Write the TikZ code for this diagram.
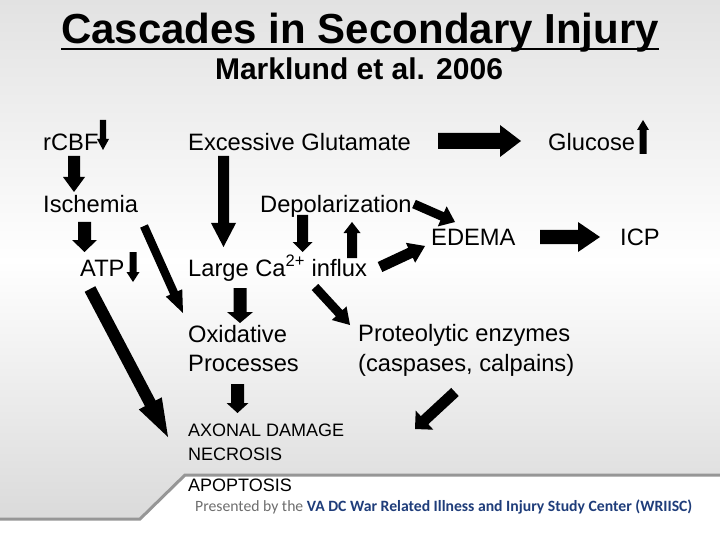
\documentclass[tikz,border=0pt]{standalone}
\usepackage{fontspec}
\setmainfont{Liberation Sans}
\newfontfamily\footfont{Carlito}
\usetikzlibrary{calc}
\definecolor{bgtop}{RGB}{226,226,226}
\definecolor{bgbot}{RGB}{218,218,218}
\definecolor{footline}{RGB}{150,150,150}
\definecolor{footblue}{RGB}{31,61,122}
\definecolor{footgray}{RGB}{110,110,110}
% block arrow: tail, tip, half shaft width, half head width, head length
\newcommand\blockarrow[5]{%
  \coordinate (babase) at ($(#2)!#5!(#1)$);
  \fill[black] ($(#1)!#3!90:(#2)$) -- ($(babase)!#3!90:(#2)$) -- ($(babase)!#4!90:(#2)$) -- (#2)
    -- ($(babase)!#4!-90:(#2)$) -- ($(babase)!#3!-90:(#2)$) -- ($(#1)!#3!-90:(#2)$) -- cycle;}
\begin{document}
\begin{tikzpicture}[x=1pt,y=-1pt,
  body/.style={anchor=base west, inner sep=0pt, font=\fontsize{23.7}{28}\selectfont},
  smallbody/.style={anchor=base west, inner sep=0pt, font=\fontsize{18}{21}\selectfont}]
\useasboundingbox (0,0) rectangle (720,540);
% background
\shade[top color=bgtop, bottom color=white] (0,0) rectangle (720,262);
\shade[top color=white, bottom color=bgbot] (0,260) rectangle (720,520);
\fill[white] (0,519) -- (140,519) -- (185,475) -- (720,475) -- (720,540) -- (0,540) -- cycle;
\draw[footline, line width=3pt] (0,519) -- (140,519) -- (185,475) -- (720,475);
% title
\node[anchor=base, inner sep=0pt, font=\bfseries\fontsize{42}{48}\selectfont] (title) at (360,44) {Cascades in Secondary Injury};
\draw[line width=2.5pt] ($(title.base west)+(0,5)$) -- ($(title.base east)+(0,5)$);
\node[anchor=base, inner sep=0pt, font=\bfseries\fontsize{30}{34}\selectfont] (sub) at (359,80) {Marklund et al. 2006};
% texts
\node[body] (rcbf) at (43,151) {rCBF};
\node[body] (glut) at (188,151) {Excessive Glutamate};
\node[body] (gluc) at (548,151) {Glucose};
\node[body] (isch) at (43,213) {Ischemia};
\node[body] (depol) at (260,213) {Depolarization};
\node[body] (edema) at (431,245) {EDEMA};
\node[body] (icp) at (620,245) {ICP};
\node[body] (atp) at (80,276) {ATP};
\node[body] (ca) at (188,276) {Large Ca\textsuperscript{2+} influx};
\node[body] (oxi) at (188,342) {Oxidative};
\node[body] (oxib) at (188,371) {Processes};
\node[body] (prot) at (358,341) {Proteolytic enzymes};
\node[body] (protb) at (358,371) {(caspases, calpains)};
\node[smallbody] (axon) at (188,436) {AXONAL DAMAGE};
\node[smallbody] (necr) at (188,460) {NECROSIS};
\node[smallbody] (apop) at (188,491) {APOPTOSIS};
\node[anchor=base west, inner sep=0pt, font=\footfont\fontsize{15.7}{17}\selectfont, text=footgray] (foot) at (195,511)
  {Presented by the \textbf{\color{footblue}VA DC War Related Illness and Injury Study Center (WRIISC)}};
% arrows
\coordinate (a1t) at (103,120);   \coordinate (a1h) at (103,150);   \blockarrow{a1t}{a1h}{3.2pt}{6pt}{11pt}
\coordinate (a2t) at (643,154);   \coordinate (a2h) at (643,120);   \blockarrow{a2t}{a2h}{3.5pt}{6pt}{10pt}
\coordinate (a3t) at (74,156);    \coordinate (a3h) at (74,192);    \blockarrow{a3t}{a3h}{6pt}{11pt}{15pt}
\coordinate (a4t) at (438,141);   \coordinate (a4h) at (521,141);   \blockarrow{a4t}{a4h}{8pt}{16pt}{21pt}
\coordinate (a5t) at (223.5,156); \coordinate (a5h) at (223.5,247); \blockarrow{a5t}{a5h}{5.5pt}{12.5pt}{24pt}
\coordinate (a6t) at (84.5,222);  \coordinate (a6h) at (84.5,252);  \blockarrow{a6t}{a6h}{6.5pt}{12.5pt}{12pt}
\coordinate (a7t) at (133,252);   \coordinate (a7h) at (133,282);   \blockarrow{a7t}{a7h}{3.5pt}{6.5pt}{10pt}
\coordinate (a8t) at (144,226);   \coordinate (a8h) at (183,313);   \blockarrow{a8t}{a8h}{4.2pt}{9pt}{22pt}
\coordinate (a9t) at (90,289);    \coordinate (a9h) at (168,437);   \blockarrow{a9t}{a9h}{6pt}{13pt}{38pt}
\coordinate (a10t) at (302.5,215); \coordinate (a10h) at (302.5,252); \blockarrow{a10t}{a10h}{5.5pt}{10pt}{10pt}
\coordinate (a11t) at (352,258);  \coordinate (a11h) at (352,222);  \blockarrow{a11t}{a11h}{5pt}{8.5pt}{11pt}
\coordinate (a12t) at (414,204);  \coordinate (a12h) at (455,222);  \blockarrow{a12t}{a12h}{4.5pt}{11pt}{14pt}
\coordinate (a13t) at (380,267);  \coordinate (a13h) at (425,246);  \blockarrow{a13t}{a13h}{5.5pt}{11pt}{16pt}
\coordinate (a14t) at (540,237);  \coordinate (a14h) at (600,237);  \blockarrow{a14t}{a14h}{7pt}{15pt}{22pt}
\coordinate (a15t) at (240,288);  \coordinate (a15h) at (240,323);  \blockarrow{a15t}{a15h}{6.5pt}{13pt}{11pt}
\coordinate (a16t) at (315,287);  \coordinate (a16h) at (350,325);  \blockarrow{a16t}{a16h}{4.5pt}{10pt}{16pt}
\coordinate (a17t) at (237.5,384); \coordinate (a17h) at (237.5,413); \blockarrow{a17t}{a17h}{6.5pt}{11pt}{10pt}
\coordinate (a18t) at (455,392);  \coordinate (a18h) at (415,429);  \blockarrow{a18t}{a18h}{5.5pt}{13pt}{13pt}
\end{tikzpicture}
\end{document}
